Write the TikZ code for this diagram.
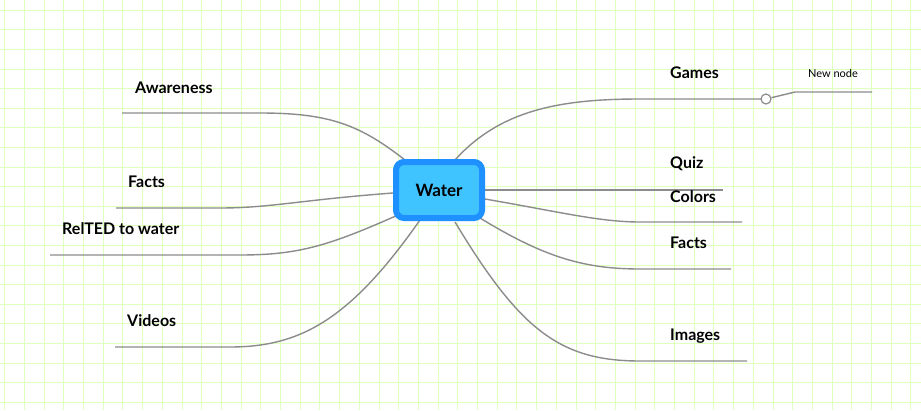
\documentclass[tikz,border=0pt]{standalone}
\usepackage{fontspec}
\setmainfont{Lato}
\begin{document}
\begin{tikzpicture}[x=1pt,y=-1pt,
  br/.style={draw=black!45,line width=1.4pt},
  lbl/.style={anchor=west,inner sep=0pt,font=\fontsize{16}{18}\selectfont\bfseries},
  hub/.style={draw=black!45,line width=1.2pt,fill=white,circle,inner sep=0pt,minimum size=10pt}]
\useasboundingbox (0,0) rectangle (921,410);
\fill[white] (0,0) rectangle (921,410);
\begin{scope}
\clip (0,0) rectangle (921,410);
\foreach \i in {0,...,47} \draw[green!50!yellow!25!white,line width=0.7pt] (4.6+\i*19.7,0) -- (4.6+\i*19.7,410);
\foreach \i in {0,...,21} \draw[green!50!yellow!25!white,line width=0.7pt] (0,10.2+\i*19.6) -- (921,10.2+\i*19.6);
\end{scope}
% endpoints
\coordinate (gE) at (765,99);
\coordinate (qE) at (723,190);
\coordinate (cE) at (742,222);
\coordinate (fE) at (731,269);
\coordinate (iE) at (747,361);
\coordinate (aE) at (122,113);
\coordinate (lfE) at (116,208);
\coordinate (rE) at (50,255);
\coordinate (vE) at (115,347);
% branches
\draw[br] (455,160) .. controls (500,110) and (560,99) .. (640,99) -- (gE);
\draw[br] (485,190) -- (qE);
\draw[br] (485,199) .. controls (560,212) and (600,222) .. (640,222) -- (cE);
\draw[br] (475,215) .. controls (540,255) and (580,269) .. (640,269) -- (fE);
\draw[br] (455,222) .. controls (520,330) and (560,361) .. (640,361) -- (iE);
\draw[br] (405,160) .. controls (360,125) and (330,113) .. (260,113) -- (aE);
\draw[br] (393,193) .. controls (300,200) and (270,208) .. (220,208) -- (lfE);
\draw[br] (398,215) .. controls (330,245) and (300,255) .. (240,255) -- (rE);
\draw[br] (420,220) .. controls (350,320) and (300,347) .. (230,347) -- (vE);
% new node
\node[hub] (h) at (766,99) {};
\coordinate (nA) at (795,92);
\coordinate (nE) at (872,92);
\draw[br] (h) -- (nA) -- (nE);
\node[font=\fontsize{11}{13}\selectfont] (nn) at (833,73) {New node};
% center
\node[draw=blue!45!cyan!90!black,draw={rgb,255:red,30;green,144;blue,255},line width=6pt,rounded corners=8pt,
  fill={rgb,255:red,64;green,196;blue,255},minimum width=86pt,minimum height=56pt,
  font=\fontsize{17}{20}\selectfont\bfseries] (w) at (439,190) {Water};
% labels
\node[lbl] (tg) at (670,73) {Games};
\node[lbl] (tq) at (670,164) {Quiz};
\node[lbl] (tc) at (670,197) {Colors};
\node[lbl] (tf) at (670,243) {Facts};
\node[lbl] (ti) at (670,336) {Images};
\node[lbl] (ta) at (135,88) {Awareness};
\node[lbl] (tlf) at (128,182) {Facts};
\node[lbl] (tr) at (62,229) {RelTED to water};
\node[lbl] (tv) at (127,321) {Videos};
\end{tikzpicture}
\end{document}
